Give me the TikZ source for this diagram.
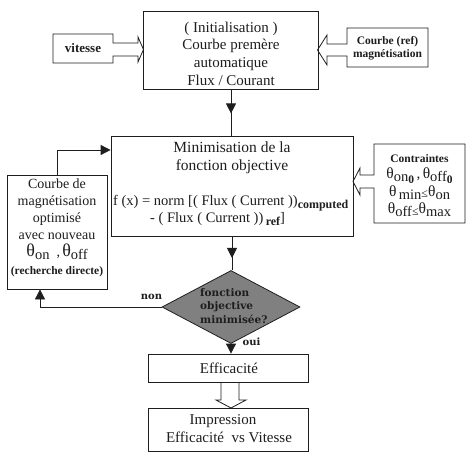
\documentclass[tikz,border=0pt]{standalone}
\usepackage{fontspec}
\setmainfont{Liberation Serif}
\newfontfamily\dvs{DejaVu Serif}
\usetikzlibrary{arrows.meta,shapes.geometric,decorations.markings}
\definecolor{ln}{HTML}{1E1E1E}
\definecolor{dfill}{HTML}{808080}
\newcommand\sbs[1]{\raisebox{-3pt}{\fontsize{14.5}{14.5}\selectfont #1}}
\newcommand\sbz[1]{\raisebox{-1.5pt}{\bfseries\fontsize{11.5}{11.5}\selectfont #1}}
\newcommand\sbb[1]{\raisebox{-3.5pt}{\bfseries\fontsize{12}{12}\selectfont #1}}
\newcommand\thb[1]{{\fontsize{#1}{#1}\selectfont θ}}
\begin{document}
\begin{tikzpicture}[x=1pt,y=-1pt,
  frame/.style={draw=ln, line width=0.8pt, rectangle, inner sep=0pt},
  txt/.style={inner sep=0pt, align=center, text=ln, font=\fontsize{15}{17.5}\selectfont},
  small/.style={inner sep=0pt, align=center, text=ln, font=\bfseries\fontsize{11.5}{13}\selectfont},
  dec/.style={inner sep=0pt, text=ln, font=\dvs\bfseries\fontsize{10.5}{13.5}\selectfont},
  con/.style={color=ln, line width=0.8pt},
  tip/.style={con, -{Triangle[length=10pt,width=10pt]}},
  midtip/.style={con, postaction={decorate}, decoration={markings, mark=at position #1 with {\arrow{Triangle[length=10pt,width=10pt]}}}},
]
\useasboundingbox (0,0) rectangle (474,457);
\fill[white] (0,0) rectangle (474,457);

% top box
\node[frame, minimum width=175pt, minimum height=78pt] (init) at (231,50) {};
\node[txt, font=\fontsize{15}{17.7}\selectfont] (initT) at (231,53.5) {( Initialisation )\\Courbe premère\\automatique\\Flux / Courant};

% vitesse block arrow
\draw[con] (53,34) -- (113,34) -- (113,43) -- (138,43) -- (138,37) -- (143.5,49.5) -- (138,62) -- (138,56) -- (113,56) -- (113,63) -- (53,63) -- cycle;
\node[small, font=\bfseries\fontsize{13}{13}\selectfont] (vit) at (83,48.5) {vitesse};

% courbe ref block arrow
\draw[con] (347,28) -- (428,28) -- (428,67) -- (347,67) -- (347,56) -- (327,56) -- (327,65) -- (317.5,50) -- (327,35) -- (327,44) -- (347,44) -- cycle;
\node[small] (refT) at (387.5,48.5) {Courbe (ref)\\magnétisation};

% minimisation box
\node[frame, minimum width=242pt, minimum height=100pt] (minbox) at (232,186) {};
\node[txt, font=\fontsize{15.5}{18}\selectfont] (minT1) at (232,158) {Minimisation de la\\fonction objective};
\node[txt, anchor=west, align=left, font=\fontsize{14.5}{16}\selectfont] (minT2) at (113,210.5) {f (x) = norm [( Flux ( Current ))\sbb{computed}\\\hspace*{37pt}- ( Flux ( Current ))\,\sbb{ref}]};

% contraintes block arrow
\draw[con] (374,144) -- (465,144) -- (465,223) -- (374,223) -- (374,188) -- (360,188) -- (360,195) -- (353,181.5) -- (360,168) -- (360,175) -- (374,175) -- cycle;
\node[small, font=\fontsize{15}{17.5}\selectfont] (consT) at (419.5,185.5) {{\bfseries\fontsize{11.5}{11.5}\selectfont Contraintes}\\[-1pt]\thb{15.5}\sbs{on\sbz{0}}\,,\,\thb{15.5}\sbs{off\sbz{0}}\\\thb{15.5}\,\sbs{min}\raisebox{-1.5pt}{\fontsize{12}{12}\selectfont ≤}\thb{15.5}\sbs{on}\\\thb{15.5}\sbs{off}\raisebox{-1.5pt}{\fontsize{12}{12}\selectfont ≤}\thb{15.5}\sbs{max}};

% left box
\node[frame, minimum width=100pt, minimum height=114pt] (opt) at (57,232) {};
\node[txt, font=\fontsize{14}{16.8}\selectfont] (optT) at (57,228) {Courbe de\\magnétisation\\optimisé\\avec nouveau\\[1pt]\thb{18}\sbs{on}\ \ ,\,\thb{18}\sbs{off}\\[1pt]{\bfseries\fontsize{11.5}{11.5}\selectfont (recherche directe)}};

% decision diamond
\node[diamond, draw=ln, line width=0.8pt, fill=dfill, minimum width=138pt, minimum height=73pt, inner sep=0pt] (dcs) at (231,307) {};
\node[dec, anchor=west, align=left] (dcsT) at (200,306) {fonction\\objective\\minimisée?};

% efficacite, impression
\node[frame, minimum width=160pt, minimum height=28pt] (eff) at (228,368) {};
\node[txt] (effT) at (229,368) {Efficacité};
\node[frame, minimum width=160pt, minimum height=43pt] (imp) at (228,429.5) {};
\node[txt] (impT) at (229,428.5) {Impression\hspace*{12pt}\\Efficacité\enspace vs Vitesse};

% hollow arrow eff -> imp
\draw[con] (221,382) -- (221,400) -- (216,400) -- (231,408) -- (246,400) -- (239,400) -- (239,382);

% connectors
\draw[midtip=0.52] (init.south) -- (init.south |- minbox.north);
\draw[midtip=0.64] (minbox.south) -- (minbox.south |- dcs.north);
\draw[tip] (opt.north) |- ([yshift=36pt]minbox.west);
\draw[tip] (dcs.west) -| ([xshift=-17pt]opt.south);
\draw[tip] (dcs.south) -- (dcs.south |- eff.north);

\node[dec, font=\dvs\bfseries\fontsize{10}{10}\selectfont] (nonL) at (151.5,297) {non};
\node[dec, font=\dvs\bfseries\fontsize{10}{10}\selectfont] (ouiL) at (251.5,342) {oui};
\end{tikzpicture}
\end{document}
